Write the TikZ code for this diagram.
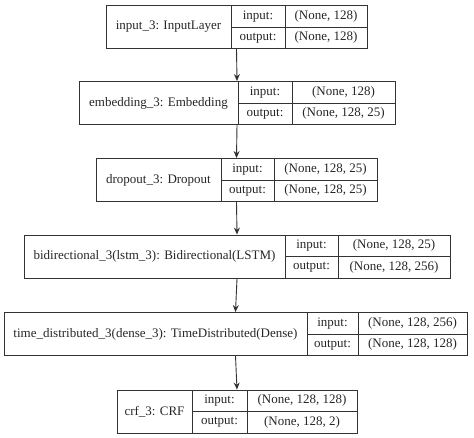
\documentclass[tikz,border=0pt]{standalone}
\usepackage{fontspec}
\setmainfont{Liberation Serif}
\usetikzlibrary{arrows.meta,fit}
\newcommand\kerlayer[9]{%
  \node[layerbox, fit={(#2,#6) (#5,#6+43)}] (#1) {};
  \draw[cellline] (#3,#6) -- (#3,#6+43);
  \draw[cellline] (#4,#6) -- (#4,#6+43);
  \draw[cellline] (#3,#6+21.5) -- (#5,#6+21.5);
  \node[txt] (#1-l) at ({(#2+#3)/2},#6+21.5) {#7};
  \node[txt] (#1-ik) at ({(#3+#4)/2},#6+10.75) {input:};
  \node[txt] (#1-ok) at ({(#3+#4)/2},#6+32.25) {output:};
  \node[txt] (#1-iv) at ({(#4+#5)/2},#6+10.75) {#8};
  \node[txt] (#1-ov) at ({(#4+#5)/2},#6+32.25) {#9};
}
\begin{document}
\begin{tikzpicture}[x=1pt,y=-1pt,
  layerbox/.style={draw=black!80, line width=0.9pt, inner sep=0pt},
  cellline/.style={draw=black!80, line width=0.9pt},
  txt/.style={font=\fontsize{13}{15}\selectfont, text=black!85, inner sep=0pt},
  conn/.style={draw=black!80, line width=0.9pt, -{Stealth[length=7pt,width=6pt]}}]
\useasboundingbox (0,0) rectangle (474,437);
\kerlayer{l1}{106}{231}{285}{367}{5.5}{input\_3: InputLayer}{(None, 128)}{(None, 128)}
\kerlayer{l2}{79}{238}{292}{395}{81.5}{embedding\_3: Embedding}{(None, 128)}{(None, 128, 25)}
\kerlayer{l3}{96}{221}{274}{377}{158.5}{dropout\_3: Dropout}{(None, 128, 25)}{(None, 128, 25)}
\kerlayer{l4}{24}{285}{338}{450}{235}{bidirectional\_3(lstm\_3): Bidirectional(LSTM)}{(None, 128, 25)}{(None, 128, 256)}
\kerlayer{l5}{4}{307}{358}{467}{312.5}{time\_distributed\_3(dense\_3): TimeDistributed(Dense)}{(None, 128, 256)}{(None, 128, 128)}
\kerlayer{l6}{117}{192}{247}{357}{390}{crf\_3: CRF}{(None, 128, 128)}{(None, 128, 2)}
\draw[conn] (l1.south) -- (l2.north);
\draw[conn] (l2.south) -- (l3.north);
\draw[conn] (l3.south) -- (l4.north);
\draw[conn] (l4.south) -- (l5.north);
\draw[conn] (l5.south) -- (l6.north);
\end{tikzpicture}
\end{document}
